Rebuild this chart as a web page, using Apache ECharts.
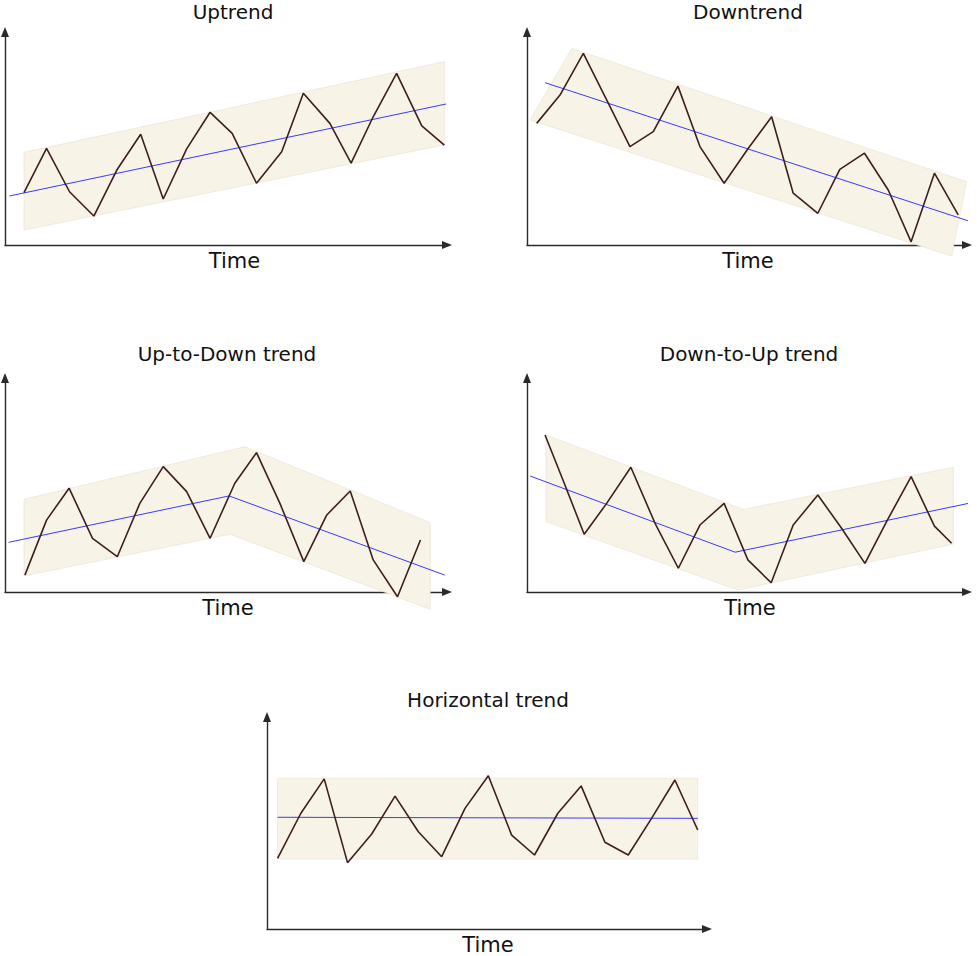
<!DOCTYPE html>
<html>
<head>
<meta charset="utf-8">
<script src="https://cdn.jsdelivr.net/npm/echarts@6/dist/echarts.min.js"></script>
<style>
  html, body { margin: 0; padding: 0; background: #fff; }
  #chart { width: 977px; height: 956px; }
</style>
</head>
<body>
<div id="chart"></div>
<script>
// x and y are in percent of each panel's axis length (0 = origin, 100 = axis end)

// Uptrend
var upX = [4.3, 9.4, 14.6, 20.1, 25.3, 30.7, 35.8, 41.1, 46.4, 51.4, 56.9, 62.6, 67.5, 73.5, 78.3, 83.3, 88.6, 94.3, 99.4]
var upY = [24.6, 45.4, 25.0, 13.6, 35.2, 52.0, 21.6, 45.1, 62.3, 52.4, 29.0, 43.8, 71.2, 57.1, 38.4, 60.2, 80.6, 55.9, 46.9]
var upBandX = [4.3, 99.4, 99.4, 4.3]
var upBandY = [43.5, 86.1, 47.0, 7.0]
var upTrendX = [1.0, 99.8]
var upTrendY = [23.0, 66.2]

// Downtrend
var downX = [2.2, 7.5, 12.8, 18.1, 23.4, 28.7, 34.3, 39.3, 44.8, 50.3, 55.6, 60.5, 66.1, 71.1, 76.7, 82.1, 87.3, 92.6, 98.0]
var downY = [57.1, 70.4, 90.0, 68.1, 46.2, 53.2, 74.6, 46.2, 29.0, 45.4, 60.2, 24.3, 14.9, 35.5, 43.1, 25.8, 1.5, 33.7, 14.1]
var downBandX = [10.2, 99.9, 96.5, 0.7]
var downBandY = [92.3, 29.7, -5.2, 58.7]
var downTrendX = [4.1, 100.2]
var downTrendY = [76.2, 11.4]

// Up-to-Down
var udX = [4.5, 9.4, 14.5, 19.8, 25.4, 30.5, 35.8, 41.1, 46.4, 52.0, 56.9, 62.2, 67.6, 72.8, 78.1, 83.3, 88.8, 94.0]
var udY = [7.9, 33.6, 48.5, 25.1, 16.5, 41.4, 58.6, 46.9, 25.1, 50.8, 65.1, 41.4, 14.2, 36.0, 47.2, 15.0, -2.2, 24.3]
var udBandX = [4.3, 54.3, 96.2, 96.2, 50.9, 4.3]
var udBandY = [43.3, 67.9, 32.4, -8.1, 27.0, 7.5]
var udTrendX = [0.8, 50.7, 99.5]
var udTrendY = [23.2, 44.9, 7.9]

// Down-to-Up
var duX = [4.1, 8.6, 13.0, 18.1, 23.6, 29.1, 34.4, 39.3, 44.8, 50.2, 55.5, 60.5, 66.1, 71.5, 76.8, 81.9, 87.3, 92.6, 96.5]
var duY = [73.4, 50.1, 27.0, 41.4, 58.3, 32.1, 11.1, 31.3, 41.4, 15.0, 4.3, 31.3, 45.3, 29.8, 13.4, 33.6, 53.9, 30.8, 22.8]
var duBandX = [4.3, 49.2, 96.9, 96.9, 48.0, 4.3]
var duBandY = [73.4, 38.6, 58.3, 22.4, 0.9, 32.9]
var duTrendX = [0.7, 47.3, 100.3]
var duTrendY = [54.2, 18.6, 41.4]

// Horizontal
var hzX = [2.4, 7.7, 13.0, 18.3, 23.8, 29.1, 34.4, 39.7, 45.0, 50.3, 55.6, 60.8, 66.1, 71.4, 76.8, 82.1, 87.4, 92.7, 97.9]
var hzY = [33.3, 54.6, 70.8, 31.3, 44.8, 62.7, 45.9, 34.1, 56.9, 72.3, 44.3, 34.9, 54.6, 67.5, 40.9, 34.9, 52.2, 70.3, 46.7]
var hzBandX = [2.4, 97.9, 97.9, 2.4]
var hzBandY = [71.1, 71.1, 33.0, 33.0]
var hzTrendX = [2.4, 97.9]
var hzTrendY = [52.7, 52.2]

var titles = ['Uptrend', 'Downtrend', 'Up-to-Down trend', 'Down-to-Up trend', 'Horizontal trend']
var xName = 'Time'

var FONT = 'DejaVu Sans'
var BAND = '#f7f3e6'
var ZIG = '#3d1f1f'
var TREND = '#3a3aff'

var panels = [
  { grid: { left: 5, top: 32, width: 442, height: 213 }, title: [233, 4], nameShift: 17,
    x: upX, y: upY, bx: upBandX, by: upBandY, tx: upTrendX, ty: upTrendY },
  { grid: { left: 527, top: 32, width: 440, height: 213 }, title: [748, 4], nameShift: 2,
    x: downX, y: downY, bx: downBandX, by: downBandY, tx: downTrendX, ty: downTrendY },
  { grid: { left: 5, top: 378, width: 442, height: 214 }, title: [227, 346], nameShift: 4,
    x: udX, y: udY, bx: udBandX, by: udBandY, tx: udTrendX, ty: udTrendY },
  { grid: { left: 527, top: 378, width: 440, height: 214 }, title: [749, 346], nameShift: 6,
    x: duX, y: duY, bx: duBandX, by: duBandY, tx: duTrendX, ty: duTrendY },
  { grid: { left: 267, top: 717, width: 440, height: 212 }, title: [488, 692], nameShift: 2,
    x: hzX, y: hzY, bx: hzBandX, by: hzBandY, tx: hzTrendX, ty: hzTrendY }
]

function zip(xs, ys) {
  return xs.map(function (x, i) { return [x, ys[i]] })
}

var axisLine = {
  show: true,
  symbol: ['none', 'triangle'],
  symbolSize: [8, 10],
  lineStyle: { color: '#2a2a2a', width: 1.4 }
}

var option = {
  animation: false,
  backgroundColor: '#fff',
  title: [],
  grid: [],
  xAxis: [],
  yAxis: [],
  series: []
}

panels.forEach(function (p, i) {
  option.title.push({
    text: titles[i],
    left: p.title[0],
    top: p.title[1],
    textAlign: 'center',
    padding: 0,
    textStyle: { fontFamily: FONT, fontSize: 20, lineHeight: 16, fontWeight: 'normal', color: '#111' }
  })
  option.grid.push(p.grid)
  option.xAxis.push({
    gridIndex: i, type: 'value', min: 0, max: 100,
    name: xName, nameLocation: 'middle', nameGap: 5,
    nameTextStyle: { fontFamily: FONT, fontSize: 21, color: '#111', padding: [0, 0, 0, p.nameShift] },
    axisLine: Object.assign({ onZero: false }, axisLine),
    axisTick: { show: false }, axisLabel: { show: false }, splitLine: { show: false }
  })
  option.yAxis.push({
    gridIndex: i, type: 'value', min: 0, max: 100,
    axisLine: Object.assign({ onZero: false }, axisLine),
    axisTick: { show: false }, axisLabel: { show: false }, splitLine: { show: false }
  })
  var bandData = zip(p.bx, p.by)
  option.series.push({
    type: 'custom', xAxisIndex: i, yAxisIndex: i, clip: false, silent: true, z: 1,
    data: bandData,
    renderItem: function (params, api) {
      if (params.dataIndex !== 0) return null
      var pts = bandData.map(function (d) { return api.coord(d) })
      return {
        type: 'polygon',
        shape: { points: pts },
        style: { fill: BAND, stroke: '#e6e1d2', lineWidth: 0.6 }
      }
    }
  })
  option.series.push({
    type: 'line', xAxisIndex: i, yAxisIndex: i, clip: false, silent: true, z: 3,
    symbol: 'none', data: zip(p.x, p.y),
    lineStyle: { color: ZIG, width: 1.6 }
  })
  option.series.push({
    type: 'line', xAxisIndex: i, yAxisIndex: i, clip: false, silent: true, z: 2,
    symbol: 'none', data: zip(p.tx, p.ty),
    lineStyle: { color: TREND, width: 1 }
  })
})

var chart = echarts.init(document.getElementById('chart'), null, { renderer: 'svg' })
chart.setOption(option)
</script>
</body>
</html>
